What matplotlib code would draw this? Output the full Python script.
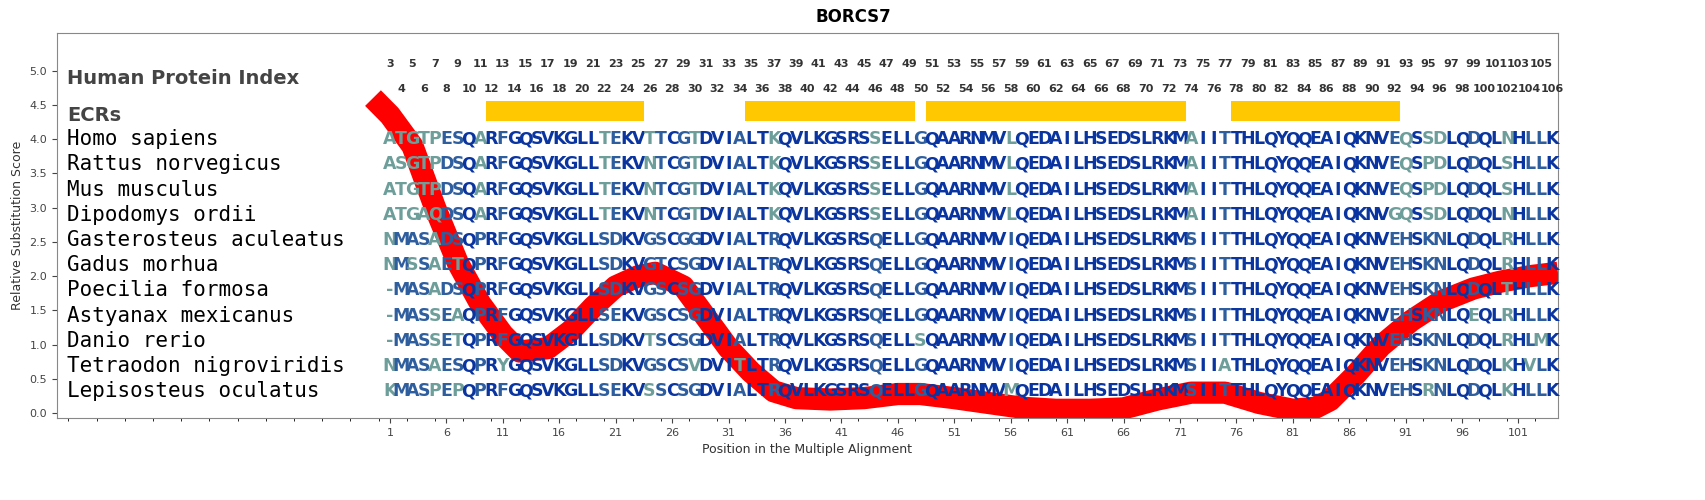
import matplotlib
matplotlib.use("Agg")
import matplotlib.pyplot as plt
from matplotlib.ticker import MultipleLocator
from collections import Counter

species = ["Homo sapiens", "Rattus norvegicus", "Mus musculus", "Dipodomys ordii",
           "Gasterosteus aculeatus", "Gadus morhua", "Poecilia formosa",
           "Astyanax mexicanus", "Danio rerio", "Tetraodon nigroviridis",
           "Lepisosteus oculatus"]
sequences = [
    "ATGTPESQARFGQSVKGLLTEKVTTCGTDVIALTKQVLKGSRSSELLGQAARNMVLQEDAILHSEDSLRKMAIITTHLQYQQEAIQKNVEQSSDLQDQLNHLLK",
    "ASGTPDSQARFGQSVKGLLTEKVNTCGTDVIALTKQVLKGSRSSELLGQAARNMVLQEDAILHSEDSLRKMAIITTHLQYQQEAIQKNVEQSPDLQDQLSHLLK",
    "ATGTPDSQARFGQSVKGLLTEKVNTCGTDVIALTKQVLKGSRSSELLGQAARNMVLQEDAILHSEDSLRKMAIITTHLQYQQEAIQKNVEQSPDLQDQLSHLLK",
    "ATGAQDSQARFGQSVKGLLTEKVNTCGTDVIALTKQVLKGSRSSELLGQAARNMVLQEDAILHSEDSLRKMAIITTHLQYQQEAIQKNVGQSSDLQDQLNHLLK",
    "NMASADSQPRFGQSVKGLLSDKVGSCGGDVIALTRQVLKGSRSQELLGQAARNMVIQEDAILHSEDSLRKMSIITTHLQYQQEAIQKNVEHSKNLQDQLRHLLK",
    "NMSSAETQPRFGQSVKGLLSDKVGTCSGDVIALTRQVLKGSRSQELLGQAARNMVIQEDAILHSEDSLRKMSIITTHLQYQQEAIQKNVEHSKNLQDQLRHLLK",
    "-MASADSQPRFGQSVKGLLSDKVGSCSGDVIALTRQVLKGSRSQELLGQAARNMVIQEDAILHSEDSLRKMSIITTHLQYQQEAIQKNVEHSKNLQDQLTHLLK",
    "-MASSEAQPRFGQSVKGLLSEKVGSCSGDVIALTRQVLKGSRSQELLGQAARNMVIQEDAILHSEDSLRKMSIITTHLQYQQEAIQKNVEHSKNLQEQLRHLLK",
    "-MASSETQPRFGQSVKGLLSDKVTSCSGDVIALTRQVLKGSRSQELLSQAARNMVIQEDAILHSEDSLRKMSIITTHLQYQQEAIQKNVEHSKNLQDQLRHLMK",
    "NMASAESQPRYGQSVKGLLSDKVGSCSVDVITLTRQVLKGSRSQELLGQAARNMVIQEDAILHSEDSLRKMSIIATHLQYQQEAIQKNVEHSKNLQDQLKHVLK",
    "KMASPEPQPRFGQSVKGLLSEKVSSCSGDVIALTRQVLKGSRSQELLGQAARNMVMQEDAILHSEDSLRKMSIITTHLQYQQEAIQKNVEHSRNLQDQLKHLLK",
]
ecr_start = [10, 33, 49, 76]
ecr_end = [23, 47, 71, 90]
curve_pos = [-0.5, 1, 3, 5, 7, 9, 11, 12.5, 15, 17, 19, 21, 23, 24.5, 27, 29, 31, 33, 35, 37,
             40, 43, 46, 48, 51, 54, 57, 60, 63, 66, 69, 72, 75, 78, 81, 83, 84.3, 86.5, 88.8,
             91.5, 94.1, 97, 99.4, 102, 104.5]
curve_score = [4.6, 4.35, 3.9, 3.0, 2.2, 1.6, 1.15, 0.9, 0.95, 1.2, 1.55, 1.85, 2.0, 2.05, 1.85, 1.4,
               0.95, 0.6, 0.32, 0.22, 0.2, 0.22, 0.28, 0.28, 0.22, 0.15, 0.08, 0.05, 0.05, 0.07,
               0.2, 0.3, 0.3, 0.15, 0.05, 0.08, 0.19, 0.55, 0.98, 1.35, 1.63, 1.82, 1.92, 2.0, 2.05]
index_offset = 2  # human protein index = position + 2

fig = plt.figure(figsize=(17.06, 5.0), dpi=100)
ax = fig.add_axes([57/1706, 82/500, 1501/1706, 385/500])
ax.set_xlim(-28.5, 104.5)
ax.set_ylim(-0.07, 5.55)

ax.plot(curve_pos, curve_score, color="#FF0000", lw=16, solid_capstyle="butt", zorder=2)

for s, e in zip(ecr_start, ecr_end):
    ax.fill_between([s - 0.5, e + 0.5], 4.27, 4.56, color="#FFC800", lw=0, zorder=1)

DARK, MED, TEAL = "#0A35A0", "#2F5E9E", "#6E9E9A"
n = len(sequences)
row_y = [4.0 - 0.368 * i for i in range(n)]
for col in range(len(sequences[0])):
    letters = [sq[col] for sq in sequences]
    cnt = Counter(letters)
    for r, sq in enumerate(sequences):
        f = cnt[sq[col]] / n
        c = DARK if f == 1 else (MED if f > 0.4 else TEAL)
        ax.text(col + 1, row_y[r], sq[col], ha="center", va="center", fontsize=12.5,
                fontweight="bold", color=c, family="DejaVu Sans", zorder=3)

for r, name in enumerate(species):
    ax.text(-27.6, row_y[r], name, ha="left", va="center", fontsize=15,
            family="DejaVu Sans Mono", color="black", zorder=3)

ax.text(-27.6, 4.89, "Human Protein Index", fontsize=14, fontweight="bold", color="#444444",
        ha="left", va="center")
ax.text(-27.6, 4.34, "ECRs", fontsize=14, fontweight="bold", color="#444444",
        ha="left", va="center")
for p in range(1, len(sequences[0]) + 1):
    idx = p + index_offset
    y = 5.1 if idx % 2 == 1 else 4.73
    ax.text(p, y, str(idx), ha="center", va="center", fontsize=8, fontweight="bold",
            color="#333333")

ax.set_yticks([i * 0.5 for i in range(11)])
ax.set_yticklabels([f"{i*0.5:.1f}" for i in range(11)])
ax.set_xticks(list(range(1, 102, 5)))
ax.xaxis.set_minor_locator(MultipleLocator(2.5))
ax.tick_params(labelsize=8, colors="#444444")
ax.set_xlabel("Position in the Multiple Alignment", fontsize=9, color="#333333")
ax.set_ylabel("Relative Substitution Score", fontsize=9, color="#333333")
for sp in ax.spines.values():
    sp.set_color("#888888")
fig.suptitle("BORCS7", fontsize=12, fontweight="bold", y=0.985)
fig.savefig("out.png", dpi=100)
